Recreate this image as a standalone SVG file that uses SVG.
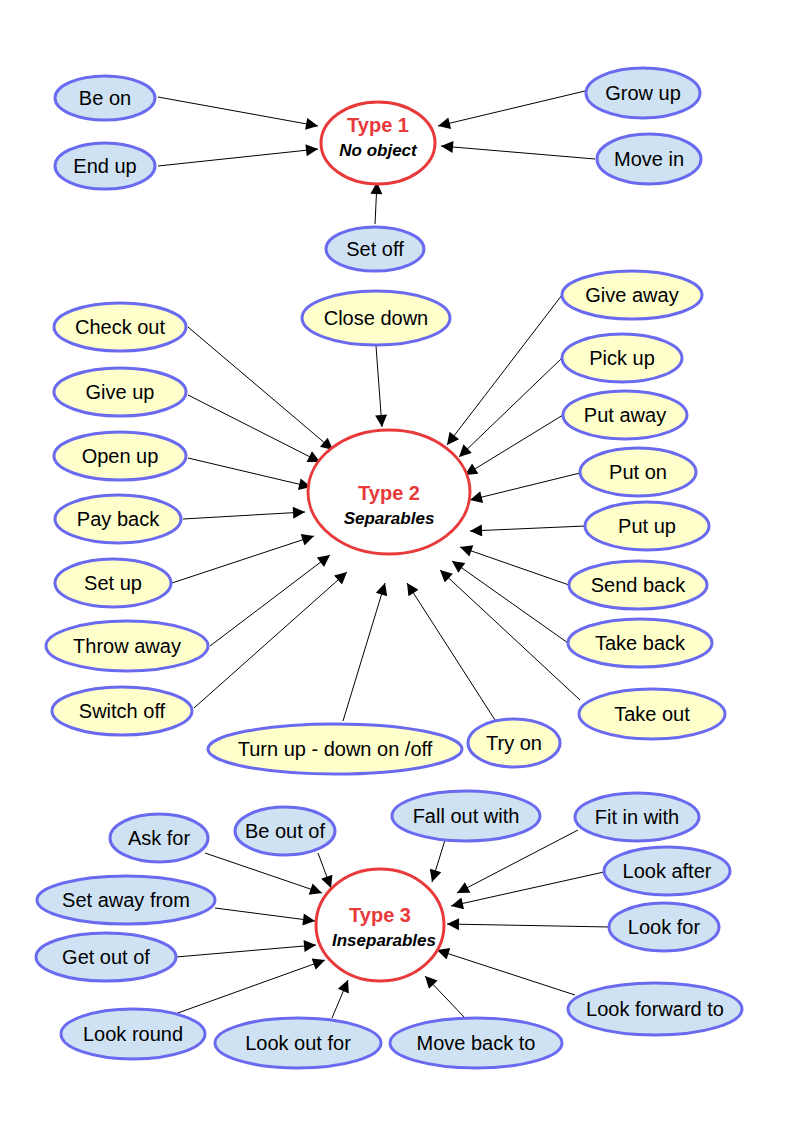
<svg xmlns="http://www.w3.org/2000/svg" width="794" height="1123" viewBox="0 0 794 1123">
<defs>
<style>
.b{fill:#cfe2f3;stroke:#6a6af0;stroke-width:3}
.y{fill:#ffffcc;stroke:#6a6af0;stroke-width:3}
.c{fill:#fff;stroke:#e8393b;stroke-width:3}
text{font-family:"Liberation Sans",Arial,sans-serif;text-anchor:middle}
.t{font-size:20px;fill:#000}
.h{font-size:20px;font-weight:bold;fill:#e8393b}
.s{font-size:17px;font-weight:bold;font-style:italic;fill:#000}
#edges line{stroke:#000;stroke-width:1;marker-end:url(#a)}
</style>
<marker id="a" viewBox="0 0 10 10" refX="10" refY="5" markerWidth="16" markerHeight="12" markerUnits="userSpaceOnUse" orient="auto"><path d="M0,0L10,5L0,10z" fill="#000"/></marker>
</defs>
<rect width="794" height="1123" fill="#fff"/>
<g id="edges">
<line x1="158" y1="97" x2="318" y2="126"/>
<line x1="158" y1="166" x2="318" y2="149"/>
<line x1="585" y1="91" x2="438" y2="126"/>
<line x1="595" y1="159" x2="441" y2="146"/>
<line x1="375" y1="224" x2="377" y2="182"/>
<line x1="188" y1="327" x2="333" y2="450"/>
<line x1="376" y1="346" x2="382" y2="427"/>
<line x1="562" y1="295" x2="447" y2="445"/>
<line x1="188" y1="395" x2="320" y2="462"/>
<line x1="562" y1="358" x2="459" y2="457"/>
<line x1="188" y1="458" x2="311" y2="487"/>
<line x1="563" y1="415" x2="465" y2="475"/>
<line x1="183" y1="519" x2="305" y2="512"/>
<line x1="580" y1="473" x2="470" y2="500"/>
<line x1="585" y1="526" x2="470" y2="531"/>
<line x1="172" y1="583" x2="314" y2="536"/>
<line x1="569" y1="585" x2="460" y2="547"/>
<line x1="210" y1="646" x2="330" y2="555"/>
<line x1="568" y1="643" x2="452" y2="561"/>
<line x1="194" y1="708" x2="347" y2="572"/>
<line x1="580" y1="700" x2="440" y2="570"/>
<line x1="343" y1="721" x2="385" y2="583"/>
<line x1="495" y1="720" x2="407" y2="583"/>
<line x1="205" y1="853" x2="322" y2="893"/>
<line x1="318" y1="853" x2="331" y2="888"/>
<line x1="445" y1="840" x2="432" y2="882"/>
<line x1="578" y1="830" x2="457" y2="893"/>
<line x1="604" y1="872" x2="451" y2="906"/>
<line x1="215" y1="908" x2="315" y2="921"/>
<line x1="610" y1="927" x2="447" y2="924"/>
<line x1="176" y1="957" x2="316" y2="945"/>
<line x1="175" y1="1014" x2="325" y2="960"/>
<line x1="575" y1="995" x2="437" y2="950"/>
<line x1="332" y1="1018" x2="348" y2="980"/>
<line x1="465" y1="1018" x2="425" y2="976"/>
</g>
<g id="type1"><ellipse class="c" cx="378" cy="143" rx="57" ry="41"/><text class="h" x="378" y="132">Type 1</text><text class="s" x="378" y="156">No object</text></g>
<g id="type2"><ellipse class="c" cx="389" cy="492" rx="81" ry="62"/><text class="h" x="389" y="500">Type 2</text><text class="s" x="389" y="524">Separables</text></g>
<g id="type3"><ellipse class="c" cx="380" cy="925" rx="64" ry="56"/><text class="h" x="380" y="922">Type 3</text><text class="s" x="384" y="946">Inseparables</text></g>
<g id="beon"><ellipse class="b" cx="105" cy="98" rx="50" ry="22"/><text class="t" x="105" y="105">Be on</text></g>
<g id="endup"><ellipse class="b" cx="105" cy="166" rx="50" ry="23"/><text class="t" x="105" y="173">End up</text></g>
<g id="growup"><ellipse class="b" cx="643" cy="93" rx="57" ry="25"/><text class="t" x="643" y="100">Grow up</text></g>
<g id="movein"><ellipse class="b" cx="649" cy="159" rx="52" ry="25"/><text class="t" x="649" y="166">Move in</text></g>
<g id="setoff"><ellipse class="b" cx="375" cy="249" rx="49" ry="22"/><text class="t" x="375" y="256">Set off</text></g>
<g id="checkout"><ellipse class="y" cx="120" cy="327" rx="66" ry="24"/><text class="t" x="120" y="334">Check out</text></g>
<g id="closedown"><ellipse class="y" cx="376" cy="318" rx="74" ry="27"/><text class="t" x="376" y="325">Close down</text></g>
<g id="giveaway"><ellipse class="y" cx="632" cy="295" rx="70" ry="24"/><text class="t" x="632" y="302">Give away</text></g>
<g id="giveup"><ellipse class="y" cx="120" cy="392" rx="66" ry="24"/><text class="t" x="120" y="399">Give up</text></g>
<g id="pickup"><ellipse class="y" cx="622" cy="358" rx="60" ry="24"/><text class="t" x="622" y="365">Pick up</text></g>
<g id="openup"><ellipse class="y" cx="120" cy="456" rx="66" ry="24"/><text class="t" x="120" y="463">Open up</text></g>
<g id="putaway"><ellipse class="y" cx="625" cy="415" rx="62" ry="24"/><text class="t" x="625" y="422">Put away</text></g>
<g id="payback"><ellipse class="y" cx="118" cy="519" rx="63" ry="24"/><text class="t" x="118" y="526">Pay back</text></g>
<g id="puton"><ellipse class="y" cx="638" cy="472" rx="58" ry="24"/><text class="t" x="638" y="479">Put on</text></g>
<g id="putup"><ellipse class="y" cx="647" cy="526" rx="62" ry="24"/><text class="t" x="647" y="533">Put up</text></g>
<g id="setup"><ellipse class="y" cx="113" cy="583" rx="58" ry="24"/><text class="t" x="113" y="590">Set up</text></g>
<g id="sendback"><ellipse class="y" cx="638" cy="585" rx="69" ry="24"/><text class="t" x="638" y="592">Send back</text></g>
<g id="throwaway"><ellipse class="y" cx="127" cy="646" rx="81" ry="25"/><text class="t" x="127" y="653">Throw away</text></g>
<g id="takeback"><ellipse class="y" cx="640" cy="643" rx="72" ry="24"/><text class="t" x="640" y="650">Take back</text></g>
<g id="switchoff"><ellipse class="y" cx="122" cy="711" rx="70" ry="24"/><text class="t" x="122" y="718">Switch off</text></g>
<g id="takeout"><ellipse class="y" cx="652" cy="714" rx="73" ry="25"/><text class="t" x="652" y="721">Take out</text></g>
<g id="turnup"><ellipse class="y" cx="335" cy="749" rx="127" ry="25"/><text class="t" x="335" y="756">Turn up - down on /off</text></g>
<g id="tryon"><ellipse class="y" cx="514" cy="743" rx="46" ry="24"/><text class="t" x="514" y="750">Try on</text></g>
<g id="askfor"><ellipse class="b" cx="159" cy="838" rx="49" ry="24"/><text class="t" x="159" y="845">Ask for</text></g>
<g id="beoutof"><ellipse class="b" cx="285" cy="831" rx="50" ry="24"/><text class="t" x="285" y="838">Be out of</text></g>
<g id="falloutwith"><ellipse class="b" cx="466" cy="816" rx="74" ry="25"/><text class="t" x="466" y="823">Fall out with</text></g>
<g id="fitinwith"><ellipse class="b" cx="637" cy="817" rx="62" ry="24"/><text class="t" x="637" y="824">Fit in with</text></g>
<g id="lookafter"><ellipse class="b" cx="667" cy="871" rx="63" ry="24"/><text class="t" x="667" y="878">Look after</text></g>
<g id="setawayfrom"><ellipse class="b" cx="126" cy="900" rx="89" ry="24"/><text class="t" x="126" y="907">Set away from</text></g>
<g id="lookfor"><ellipse class="b" cx="664" cy="927" rx="55" ry="24"/><text class="t" x="664" y="934">Look for</text></g>
<g id="getoutof"><ellipse class="b" cx="106" cy="957" rx="70" ry="24"/><text class="t" x="106" y="964">Get out of</text></g>
<g id="lookround"><ellipse class="b" cx="133" cy="1034" rx="72" ry="25"/><text class="t" x="133" y="1041">Look round</text></g>
<g id="lookforwardto"><ellipse class="b" cx="655" cy="1009" rx="87" ry="26"/><text class="t" x="655" y="1016">Look forward to</text></g>
<g id="lookoutfor"><ellipse class="b" cx="298" cy="1043" rx="83" ry="25"/><text class="t" x="298" y="1050">Look out for</text></g>
<g id="movebackto"><ellipse class="b" cx="476" cy="1043" rx="86" ry="25"/><text class="t" x="476" y="1050">Move back to</text></g>
</svg>
